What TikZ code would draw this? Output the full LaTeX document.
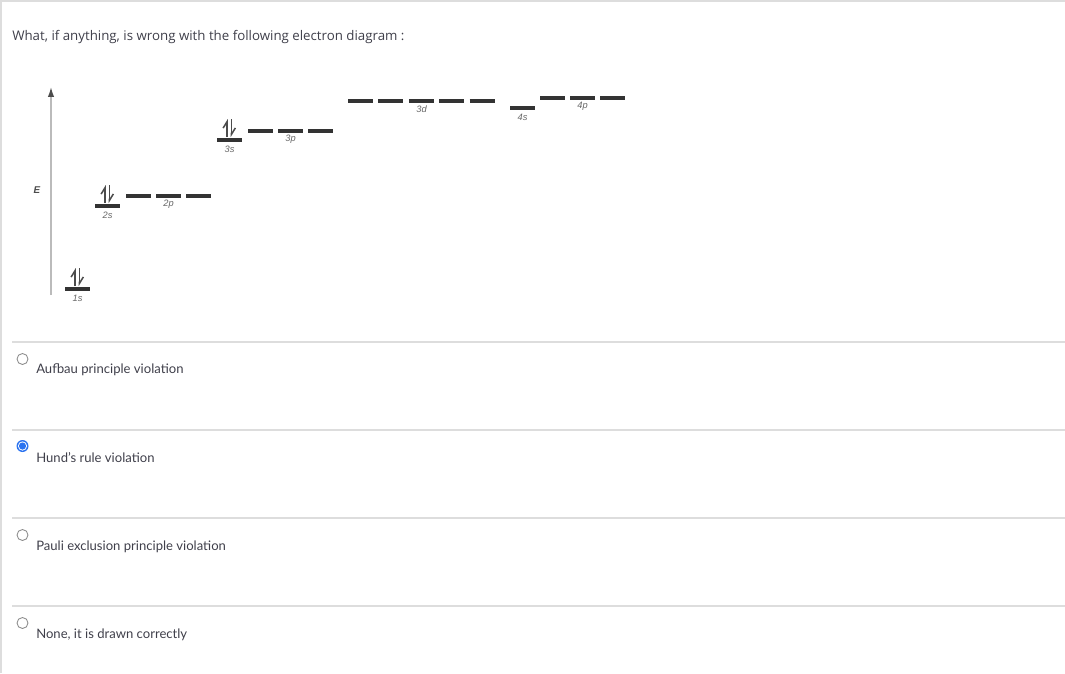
\documentclass[tikz,border=0pt]{standalone}
\usepackage{fontspec}
\setmainfont{Lato}
\newfontfamily\titlefont{Open Sans}
\newfontfamily\labfont{Liberation Sans}
\usetikzlibrary{arrows.meta}

\definecolor{textgray}{HTML}{3F3F4A}
\definecolor{rulegray}{HTML}{DDDDDD}
\definecolor{axisgray}{HTML}{BBBBBB}
\definecolor{labgray}{HTML}{666666}
\definecolor{radiogray}{HTML}{8A8A8A}
\definecolor{radioblue}{HTML}{2B73F0}

\begin{document}
\begin{tikzpicture}[
        %We work in pixels of the screenshot
        x=0.025cm, y=-0.025cm,
        level/.style={line width=2.2pt, color=black!80},
        spin/.style={line width=1.1pt, color=black!70},
        orbital label/.style={font=\labfont\itshape\fontsize{6.6}{7}\selectfont, color=labgray, inner sep=0pt},
        option/.style={font=\fontsize{9.3}{11}\selectfont, color=textgray, anchor=west, inner sep=0pt},
        radio/.style={draw=radiogray, line width=0.6pt, fill=white},
        separator/.style={rulegray, line width=1.2pt},
        every node/.style={color=black,}
     ]
    \useasboundingbox (0,0) rectangle (1065,673);
    % frame of the page
    \draw[rulegray, line width=0.8pt] (1,673) -- (1,1) -- (1065,1);

    % question
    \node[font=\titlefont\fontsize{9.45}{11}\selectfont, color=textgray, anchor=west, inner sep=0pt]
        (question) at (12,37.5) {What, if anything, is wrong with the following electron diagram :};

    % energy axis
    \coordinate (axisbottom) at (51,295);
    \coordinate (axistop) at (51,87);
    \draw[axisgray, line width=1pt, -{Latex[length=7pt, width=4.5pt, color=black!70]}] (axisbottom) -- (axistop);
    \node[font=\labfont\bfseries\itshape\fontsize{7}{8}\selectfont, color=black!70] (energy) at (37,190) {E};

    % s levels with their electron pairs
    \foreach \name/\x/\y in {1s/65/289, 2s/95/206, 3s/217/140, 4s/510/108}{
        \draw[level] (\x,\y) -- ++(25,0);
        \node[orbital label] (\name) at (\x+12.5,\y+9) {\name};
    }
    \foreach \x/\y in {65/289, 95/206, 217/140}{
        \draw[spin, -{Straight Barb[left, length=4.5pt, width=5.5pt]}] (\x+10,\y-3) -- ++(0,-18);
        \draw[spin, -{Straight Barb[left, length=4.5pt, width=5.5pt]}] (\x+14.5,\y-21) -- ++(0,18);
    }

    % p levels
    \foreach \name/\x/\y in {2p/126/196, 3p/248/131, 4p/540/98}{
        \foreach \i in {0,1,2}
            \draw[level] (\x+30*\i,\y) -- ++(25,0);
        \node[orbital label] (\name) at (\x+42.5,\y+8) {\name};
    }

    % d levels
    \foreach \i in {0,...,4}
        \draw[level] (348+30.4*\i,101) -- ++(25,0);
    \node[orbital label] (3d) at (421.5,109) {3d};

    % separators between the answers
    \foreach \y in {342,430,518,606}
        \draw[separator] (12,\y) -- (1065,\y);

    % answers
    \foreach \y/\txt [count=\k] in {369.5/Aufbau principle violation,
                                    457.5/Hund's rule violation,
                                    546.5/Pauli exclusion principle violation,
                                    634.5/{None, it is drawn correctly}}{
        \node[option] (answer\k) at (36,\y) {\txt};
    }
    \foreach \y [count=\k] in {359,535,623}
        \draw[radio] (22.5,\y) circle (5.5);
    \fill[radioblue] (22.5,446) circle (6);
    \fill[white] (22.5,446) circle (4.6);
    \fill[radioblue] (22.5,446) circle (3.6);
\end{tikzpicture}
\end{document}
